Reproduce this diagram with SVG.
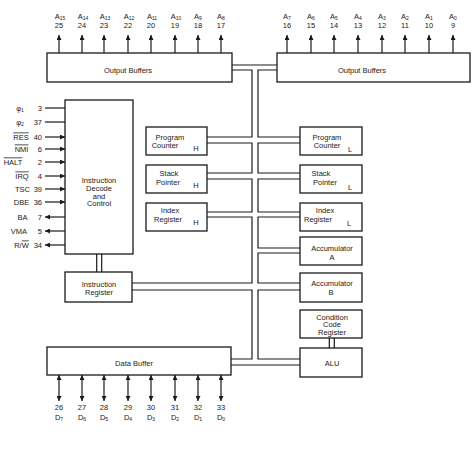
<svg xmlns="http://www.w3.org/2000/svg" width="474" height="460" viewBox="0 0 474 460">
<defs>
<style>
.box{fill:#fff;stroke:#1a1a1a;stroke-width:1.3}
.bus{fill:none;stroke:#1a1a1a;stroke-width:1.2}
.ln{fill:none;stroke:#1a1a1a;stroke-width:1.2}
.t{font-family:"Liberation Sans",Arial,sans-serif;font-size:7.5px;fill:#1a1a1a;text-anchor:middle}
.p{font-family:"Liberation Sans",Arial,sans-serif;font-size:7.5px;fill:#1a1a1a;text-anchor:middle}
.n{font-family:"Liberation Sans",Arial,sans-serif;font-size:7.5px;fill:#1a1a1a;text-anchor:end}
.s{font-size:5px}
.ov{text-decoration:overline}
</style>
<marker id="ah" viewBox="0 0 10 10" refX="10" refY="5" markerWidth="5.5" markerHeight="5" markerUnits="userSpaceOnUse" orient="auto-start-reverse">
<path d="M0,0 L10,5 L0,10 z" fill="#1a1a1a"/>
</marker>
</defs>
<rect width="474" height="460" fill="#fff"/>

<g id="connectors">
<path class="bus" d="M232,65 H277"/>
<path class="bus" d="M232,70 H252 V137 H207"/>
<path class="bus" d="M207,143 H252 V173 H207"/>
<path class="bus" d="M207,179 H252 V212 H207"/>
<path class="bus" d="M207,217 H252 V283 H132"/>
<path class="bus" d="M132,290 H252 V359 H231"/>
<path class="bus" d="M277,70 H258 V137 H300"/>
<path class="bus" d="M300,143 H258 V173 H300"/>
<path class="bus" d="M300,179 H258 V212 H300"/>
<path class="bus" d="M300,217 H258 V248 H300"/>
<path class="bus" d="M300,253 H258 V283 H300"/>
<path class="bus" d="M300,290 H258 V359 H300"/>
<path class="bus" d="M231,365 H300"/>
<path class="bus" d="M96.7,254 V272 M101.7,254 V272"/>
<path class="bus" d="M329.3,338 V348 M334.3,338 V348"/>
<g class="ln">
<line x1="59" y1="53" x2="59" y2="35" marker-end="url(#ah)"/>
<line x1="82" y1="53" x2="82" y2="35" marker-end="url(#ah)"/>
<line x1="104" y1="53" x2="104" y2="35" marker-end="url(#ah)"/>
<line x1="128" y1="53" x2="128" y2="35" marker-end="url(#ah)"/>
<line x1="151" y1="53" x2="151" y2="35" marker-end="url(#ah)"/>
<line x1="175" y1="53" x2="175" y2="35" marker-end="url(#ah)"/>
<line x1="198" y1="53" x2="198" y2="35" marker-end="url(#ah)"/>
<line x1="221" y1="53" x2="221" y2="35" marker-end="url(#ah)"/>
<line x1="287" y1="53" x2="287" y2="35" marker-end="url(#ah)"/>
<line x1="311" y1="53" x2="311" y2="35" marker-end="url(#ah)"/>
<line x1="334" y1="53" x2="334" y2="35" marker-end="url(#ah)"/>
<line x1="358" y1="53" x2="358" y2="35" marker-end="url(#ah)"/>
<line x1="382" y1="53" x2="382" y2="35" marker-end="url(#ah)"/>
<line x1="405" y1="53" x2="405" y2="35" marker-end="url(#ah)"/>
<line x1="429" y1="53" x2="429" y2="35" marker-end="url(#ah)"/>
<line x1="453" y1="53" x2="453" y2="35" marker-end="url(#ah)"/>
<line x1="59" y1="375" x2="59" y2="401" marker-start="url(#ah)" marker-end="url(#ah)"/>
<line x1="82" y1="375" x2="82" y2="401" marker-start="url(#ah)" marker-end="url(#ah)"/>
<line x1="104" y1="375" x2="104" y2="401" marker-start="url(#ah)" marker-end="url(#ah)"/>
<line x1="128" y1="375" x2="128" y2="401" marker-start="url(#ah)" marker-end="url(#ah)"/>
<line x1="151" y1="375" x2="151" y2="401" marker-start="url(#ah)" marker-end="url(#ah)"/>
<line x1="175" y1="375" x2="175" y2="401" marker-start="url(#ah)" marker-end="url(#ah)"/>
<line x1="198" y1="375" x2="198" y2="401" marker-start="url(#ah)" marker-end="url(#ah)"/>
<line x1="221" y1="375" x2="221" y2="401" marker-start="url(#ah)" marker-end="url(#ah)"/>
<line x1="45" y1="108" x2="65" y2="108"/>
<line x1="45" y1="122" x2="65" y2="122"/>
<line x1="45" y1="137" x2="65" y2="137" marker-end="url(#ah)"/>
<line x1="45" y1="149" x2="65" y2="149" marker-end="url(#ah)"/>
<line x1="45" y1="162" x2="65" y2="162" marker-end="url(#ah)"/>
<line x1="45" y1="176" x2="65" y2="176" marker-end="url(#ah)"/>
<line x1="45" y1="189" x2="65" y2="189" marker-end="url(#ah)"/>
<line x1="45" y1="202" x2="65" y2="202" marker-end="url(#ah)"/>
<line x1="65" y1="217" x2="45" y2="217" marker-end="url(#ah)"/>
<line x1="65" y1="231" x2="45" y2="231" marker-end="url(#ah)"/>
<line x1="65" y1="245" x2="45" y2="245" marker-end="url(#ah)"/>
</g>
</g>

<g id="addr-labels">
<text class="p" x="60" y="18.5">A<tspan class="s" dy="1.5">15</tspan></text><text class="p" x="59" y="28">25</text>
<text class="p" x="83" y="18.5">A<tspan class="s" dy="1.5">14</tspan></text><text class="p" x="82" y="28">24</text>
<text class="p" x="105" y="18.5">A<tspan class="s" dy="1.5">13</tspan></text><text class="p" x="104" y="28">23</text>
<text class="p" x="129" y="18.5">A<tspan class="s" dy="1.5">12</tspan></text><text class="p" x="128" y="28">22</text>
<text class="p" x="152" y="18.5">A<tspan class="s" dy="1.5">11</tspan></text><text class="p" x="151" y="28">20</text>
<text class="p" x="176" y="18.5">A<tspan class="s" dy="1.5">10</tspan></text><text class="p" x="175" y="28">19</text>
<text class="p" x="198" y="18.5">A<tspan class="s" dy="1.5">9</tspan></text><text class="p" x="198" y="28">18</text>
<text class="p" x="221" y="18.5">A<tspan class="s" dy="1.5">8</tspan></text><text class="p" x="221" y="28">17</text>
<text class="p" x="287" y="18.5">A<tspan class="s" dy="1.5">7</tspan></text><text class="p" x="287" y="28">16</text>
<text class="p" x="311" y="18.5">A<tspan class="s" dy="1.5">6</tspan></text><text class="p" x="311" y="28">15</text>
<text class="p" x="334" y="18.5">A<tspan class="s" dy="1.5">5</tspan></text><text class="p" x="334" y="28">14</text>
<text class="p" x="358" y="18.5">A<tspan class="s" dy="1.5">4</tspan></text><text class="p" x="358" y="28">13</text>
<text class="p" x="382" y="18.5">A<tspan class="s" dy="1.5">3</tspan></text><text class="p" x="382" y="28">12</text>
<text class="p" x="405" y="18.5">A<tspan class="s" dy="1.5">2</tspan></text><text class="p" x="405" y="28">11</text>
<text class="p" x="429" y="18.5">A<tspan class="s" dy="1.5">1</tspan></text><text class="p" x="429" y="28">10</text>
<text class="p" x="453" y="18.5">A<tspan class="s" dy="1.5">0</tspan></text><text class="p" x="453" y="28">9</text>
</g>

<g id="data-labels">
<text class="p" x="59" y="410">26</text><text class="p" x="59" y="419.5">D<tspan class="s" dy="1.5">7</tspan></text>
<text class="p" x="82" y="410">27</text><text class="p" x="82" y="419.5">D<tspan class="s" dy="1.5">6</tspan></text>
<text class="p" x="104" y="410">28</text><text class="p" x="104" y="419.5">D<tspan class="s" dy="1.5">5</tspan></text>
<text class="p" x="128" y="410">29</text><text class="p" x="128" y="419.5">D<tspan class="s" dy="1.5">4</tspan></text>
<text class="p" x="151" y="410">30</text><text class="p" x="151" y="419.5">D<tspan class="s" dy="1.5">3</tspan></text>
<text class="p" x="175" y="410">31</text><text class="p" x="175" y="419.5">D<tspan class="s" dy="1.5">2</tspan></text>
<text class="p" x="198" y="410">32</text><text class="p" x="198" y="419.5">D<tspan class="s" dy="1.5">1</tspan></text>
<text class="p" x="221" y="410">33</text><text class="p" x="221" y="419.5">D<tspan class="s" dy="1.5">0</tspan></text>
</g>

<g id="pin-labels">
<text class="p" x="20" y="110.5">φ<tspan class="s" dy="1.5">1</tspan></text><text class="n" x="42" y="110.5">3</text>
<text class="p" x="20" y="124.5">φ<tspan class="s" dy="1.5">2</tspan></text><text class="n" x="42" y="124.5">37</text>
<text class="p ov" x="21" y="139.5">RES</text><text class="n" x="42" y="139.5">40</text>
<text class="p ov" x="21.5" y="151.5">NMI</text><text class="n" x="42" y="151.5">6</text>
<text class="p ov" x="13" y="164.5">HALT</text><text class="n" x="42" y="164.5">2</text>
<text class="p ov" x="22" y="178.5">IRQ</text><text class="n" x="42" y="178.5">4</text>
<text class="p" x="22.5" y="191.5">TSC</text><text class="n" x="42" y="191.5">39</text>
<text class="p" x="21.5" y="204.5">DBE</text><text class="n" x="42" y="204.5">36</text>
<text class="p" x="22.5" y="219.5">BA</text><text class="n" x="42" y="219.5">7</text>
<text class="p" x="19" y="233.5">VMA</text><text class="n" x="42" y="233.5">5</text>
<text class="p" x="21.5" y="247.5">R/<tspan class="ov">W</tspan></text><text class="n" x="42" y="247.5">34</text>
</g>

<g id="out-buf-hi"><rect class="box" x="47" y="53" width="185" height="29"/><text class="t" x="128" y="72.5">Output Buffers</text></g>
<g id="out-buf-lo"><rect class="box" x="277" y="53" width="193" height="29"/><text class="t" x="362" y="72.5">Output Buffers</text></g>
<g id="decode"><rect class="box" x="65" y="100" width="68" height="154"/><text class="t" x="99" y="182.5">Instruction</text><text class="t" x="99" y="191">Decode</text><text class="t" x="99" y="198.5">and</text><text class="t" x="99" y="206">Control</text></g>
<g id="instr-reg"><rect class="box" x="65" y="272" width="67" height="30"/><text class="t" x="99" y="286.5">Instruction</text><text class="t" x="99" y="294.5">Register</text></g>
<g id="data-buf"><rect class="box" x="47" y="347" width="184" height="28"/><text class="t" x="134" y="366">Data Buffer</text></g>
<g id="pc-h"><rect class="box" x="146" y="127" width="61" height="28"/><text class="t" x="170" y="139.5">Program</text><text class="t" x="165" y="148">Counter</text><text class="t" x="196" y="151">H</text></g>
<g id="sp-h"><rect class="box" x="146" y="165" width="61" height="28"/><text class="t" x="169" y="175.5">Stack</text><text class="t" x="168" y="184.5">Pointer</text><text class="t" x="196" y="188">H</text></g>
<g id="ix-h"><rect class="box" x="146" y="203" width="61" height="28"/><text class="t" x="170" y="212.5">Index</text><text class="t" x="168" y="221.5">Register</text><text class="t" x="196" y="224.5">H</text></g>
<g id="pc-l"><rect class="box" x="300" y="127" width="62" height="28"/><text class="t" x="327" y="139.5">Program</text><text class="t" x="327" y="148">Counter</text><text class="t" x="350" y="152">L</text></g>
<g id="sp-l"><rect class="box" x="300" y="165" width="62" height="28"/><text class="t" x="321" y="176">Stack</text><text class="t" x="325" y="184.5">Pointer</text><text class="t" x="350" y="189.5">L</text></g>
<g id="ix-l"><rect class="box" x="300" y="203" width="62" height="28"/><text class="t" x="325" y="212.5">Index</text><text class="t" x="318" y="221.5">Register</text><text class="t" x="349" y="225.5">L</text></g>
<g id="acc-a"><rect class="box" x="300" y="237" width="62" height="28"/><text class="t" x="332" y="250.5">Accumulator</text><text class="t" x="332" y="259.5">A</text></g>
<g id="acc-b"><rect class="box" x="300" y="273" width="62" height="29"/><text class="t" x="332" y="286">Accumulator</text><text class="t" x="331" y="294.5">B</text></g>
<g id="ccr"><rect class="box" x="300" y="310" width="62" height="28"/><text class="t" x="332" y="319.5">Condition</text><text class="t" x="332" y="327">Code</text><text class="t" x="332" y="334.5">Register</text></g>
<g id="alu"><rect class="box" x="300" y="348" width="62" height="29"/><text class="t" x="332" y="365.5">ALU</text></g>
</svg>
